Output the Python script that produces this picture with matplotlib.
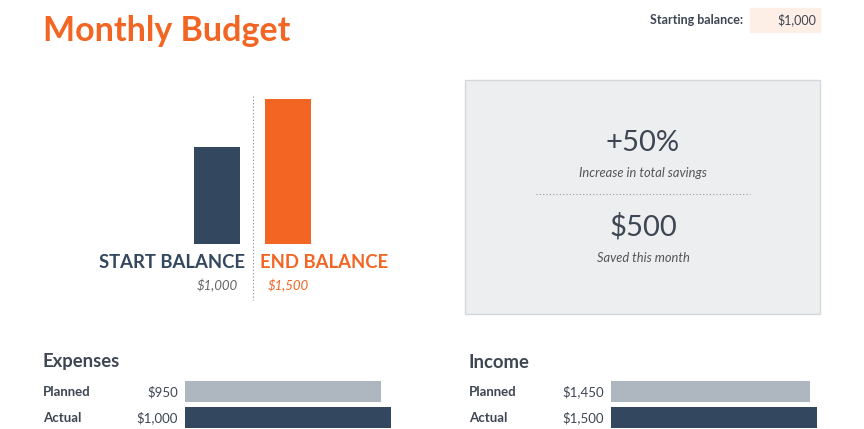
import matplotlib
matplotlib.use("Agg")
import matplotlib.pyplot as plt
from matplotlib.patches import Rectangle

W, H = 864, 429
starting_balance = 1000
balance_labels = ["START BALANCE", "END BALANCE"]
balance_values = [1000, 1500]
expense_cats = ["Planned", "Actual"]
expense_values = [950, 1000]
income_cats = ["Planned", "Actual"]
income_values = [1450, 1500]
pct_increase = 50
saved = 500

NAVY = "#33475f"; ORANGE = "#f26522"; GRAY = "#aeb6bf"; TXT = "#3d4652"
plt.rcParams["font.family"] = "Lato"
fig = plt.figure(figsize=(W/100, H/100), dpi=100)

def fx(x): return x / W
def fy(y): return 1 - y / H
def txt(x, y, s, **kw):
    fig.text(fx(x), fy(y), s, **kw)
def axpx(x0, y0, x1, y1):
    return fig.add_axes([fx(x0), fy(y1), fx(x1 - x0), (y1 - y0) / H])

txt(43, 31, "Monthly Budget", fontsize=24.5, fontweight="bold", color=ORANGE, va="center")
txt(743, 20, "Starting balance:", fontsize=9, fontweight="bold", color=TXT, ha="right", va="center")
fig.patches.append(Rectangle((fx(750), fy(32)), fx(70), 24/H, transform=fig.transFigure, color="#fdeee6", zorder=0))
txt(816, 20, f"${starting_balance:,}", fontsize=9, color=TXT, ha="right", va="center")

# main bars
ax = axpx(180, 99, 325, 244)
ax.bar([217, 288], balance_values, width=46, color=[NAVY, ORANGE])
ax.set_xlim(180, 325); ax.set_ylim(0, max(balance_values)); ax.axis("off")
fig.add_artist(plt.Line2D([fx(253), fx(253)], [fy(96), fy(300)], transform=fig.transFigure, color="#888", lw=0.8, ls=(0, (1, 2))))
txt(245, 262, balance_labels[0], fontsize=13.3, fontweight="bold", color=NAVY, ha="right", va="center")
txt(260, 262, balance_labels[1], fontsize=13.3, fontweight="bold", color=ORANGE, ha="left", va="center")
txt(238, 285, f"${balance_values[0]:,}", fontsize=9.5, style="italic", color="#666", ha="right", va="center")
txt(268, 285, f"${balance_values[1]:,}", fontsize=9.5, style="italic", color=ORANGE, ha="left", va="center")

# panel
fig.patches.append(Rectangle((fx(465), fy(314)), fx(355), 234/H, transform=fig.transFigure, facecolor="#eceef0", edgecolor="#d4d7db", lw=1, zorder=0))
txt(643, 143, f"+{pct_increase}%", fontsize=21, color=TXT, ha="center", va="center")
txt(643, 173, "Increase in total savings", fontsize=9.3, style="italic", color="#555", ha="center", va="center")
fig.add_artist(plt.Line2D([fx(536), fx(750)], [fy(194), fy(194)], transform=fig.transFigure, color="#999", lw=0.8, ls=(0, (1, 2))))
txt(643, 227, f"${saved}", fontsize=21, color=TXT, ha="center", va="center")
txt(643, 258, "Saved this month", fontsize=9.3, style="italic", color="#555", ha="center", va="center")

def section(title, x0, xval, cats, vals, vmax, ax_x0):
    txt(x0, 362, title, fontsize=13.3, fontweight="bold", color=TXT, va="center")
    for i, (c, v) in enumerate(zip(cats, vals)):
        y = 392 + i * 26
        txt(x0, y, c, fontsize=9.5, fontweight="bold", color=TXT, va="center")
        txt(xval, y, f"${v:,}", fontsize=9.5, color=TXT, ha="right", va="center")
    a = axpx(ax_x0, 379, ax_x0 + 206, 430)
    a.barh([1, 0], vals, height=0.84, color=[GRAY, NAVY])
    a.set_xlim(0, vmax); a.set_ylim(-0.5, 1.5); a.axis("off")

section("Expenses", 43, 178, expense_cats, expense_values, max(expense_values), 185)
section("Income", 469, 604, income_cats, income_values, max(income_values), 611)

fig.savefig("out.png", dpi=100)
